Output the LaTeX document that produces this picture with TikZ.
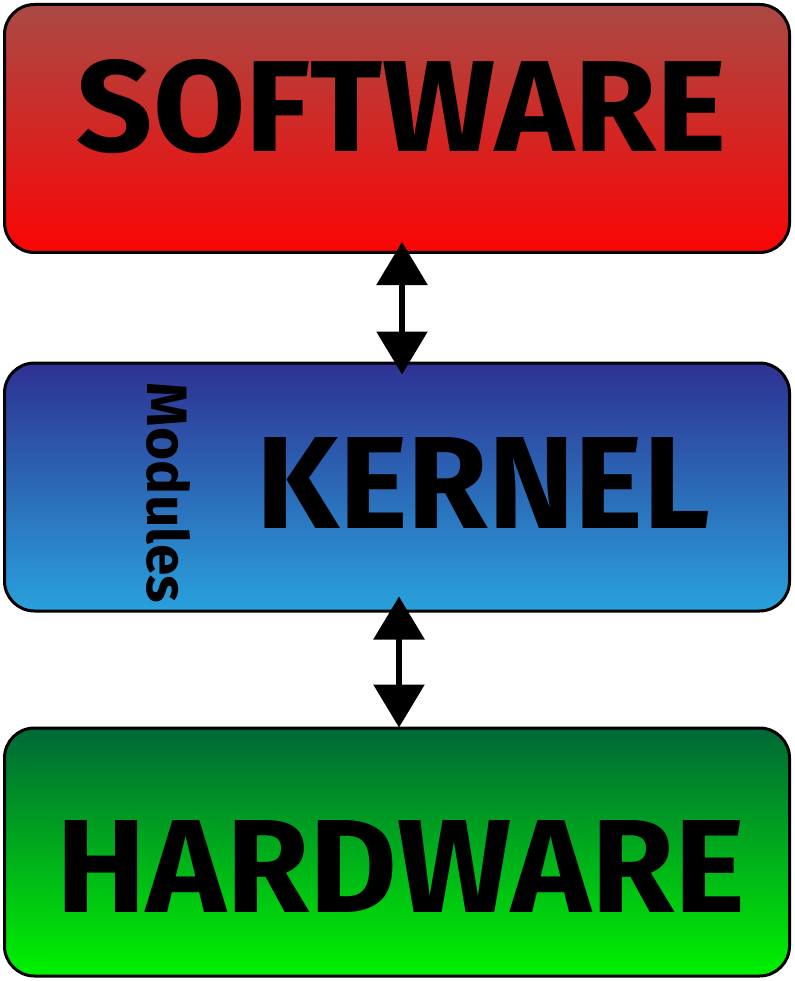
\documentclass[tikz,border=0pt]{standalone}
\usepackage{fontspec}
\setmainfont{Fira Sans}
\usepackage{graphicx}
\usetikzlibrary{calc,positioning,arrows.meta}

\definecolor{swtop}{RGB}{169,74,68}
\definecolor{swbot}{RGB}{250,5,5}
\definecolor{kntop}{RGB}{46,49,146}
\definecolor{knbot}{RGB}{41,161,220}
\definecolor{hwtop}{RGB}{0,104,55}
\definecolor{hwbot}{RGB}{0,242,0}

\tikzset{
  layer/.style={draw=black, line width=3pt, rounded corners=30pt,
    minimum width=785pt, minimum height=248pt, inner sep=0pt},
  layertext/.style={anchor=base, inner sep=0pt},
  link/.style={line width=6pt,
    {Triangle[width=50pt,length=43pt]}-{Triangle[width=50pt,length=43pt]}},
}

\begin{document}
\begin{tikzpicture}[x=1pt,y=-1pt]
    \useasboundingbox (0,0) rectangle (794,981);

    % the three layers
    \node[layer, top color=swtop, bottom color=swbot] (software) at (397,128.5) {};
    \node[layer, top color=kntop, bottom color=knbot] (kernel) at (397,487) {};
    \node[layer, top color=hwtop, bottom color=hwbot] (hardware) at (397,852) {};

    % labels
    \node[layertext] (softwarelabel) at (402,152) {\resizebox{650pt}{92pt}{\bfseries SOFTWARE}};
    \node[layertext] (kernellabel) at (483.5,528) {\resizebox{453pt}{91pt}{\bfseries KERNEL}};
    \node[layertext] (hardwarelabel) at (401,912) {\resizebox{688pt}{92pt}{\bfseries HARDWARE}};
    \node[layertext, rotate=-90] (moduleslabel) at (147,493) {\resizebox{220pt}{!}{\bfseries Modules}};

    % links between the layers
    \draw[link, shorten <=-12pt, shorten >=-13pt] ([xshift=5pt]software.south) -- ([xshift=5pt]kernel.north);
    \draw[link, shorten <=-16pt, shorten >=-1pt] ([xshift=2pt]kernel.south) -- ([xshift=2pt]hardware.north);
\end{tikzpicture}
\end{document}
